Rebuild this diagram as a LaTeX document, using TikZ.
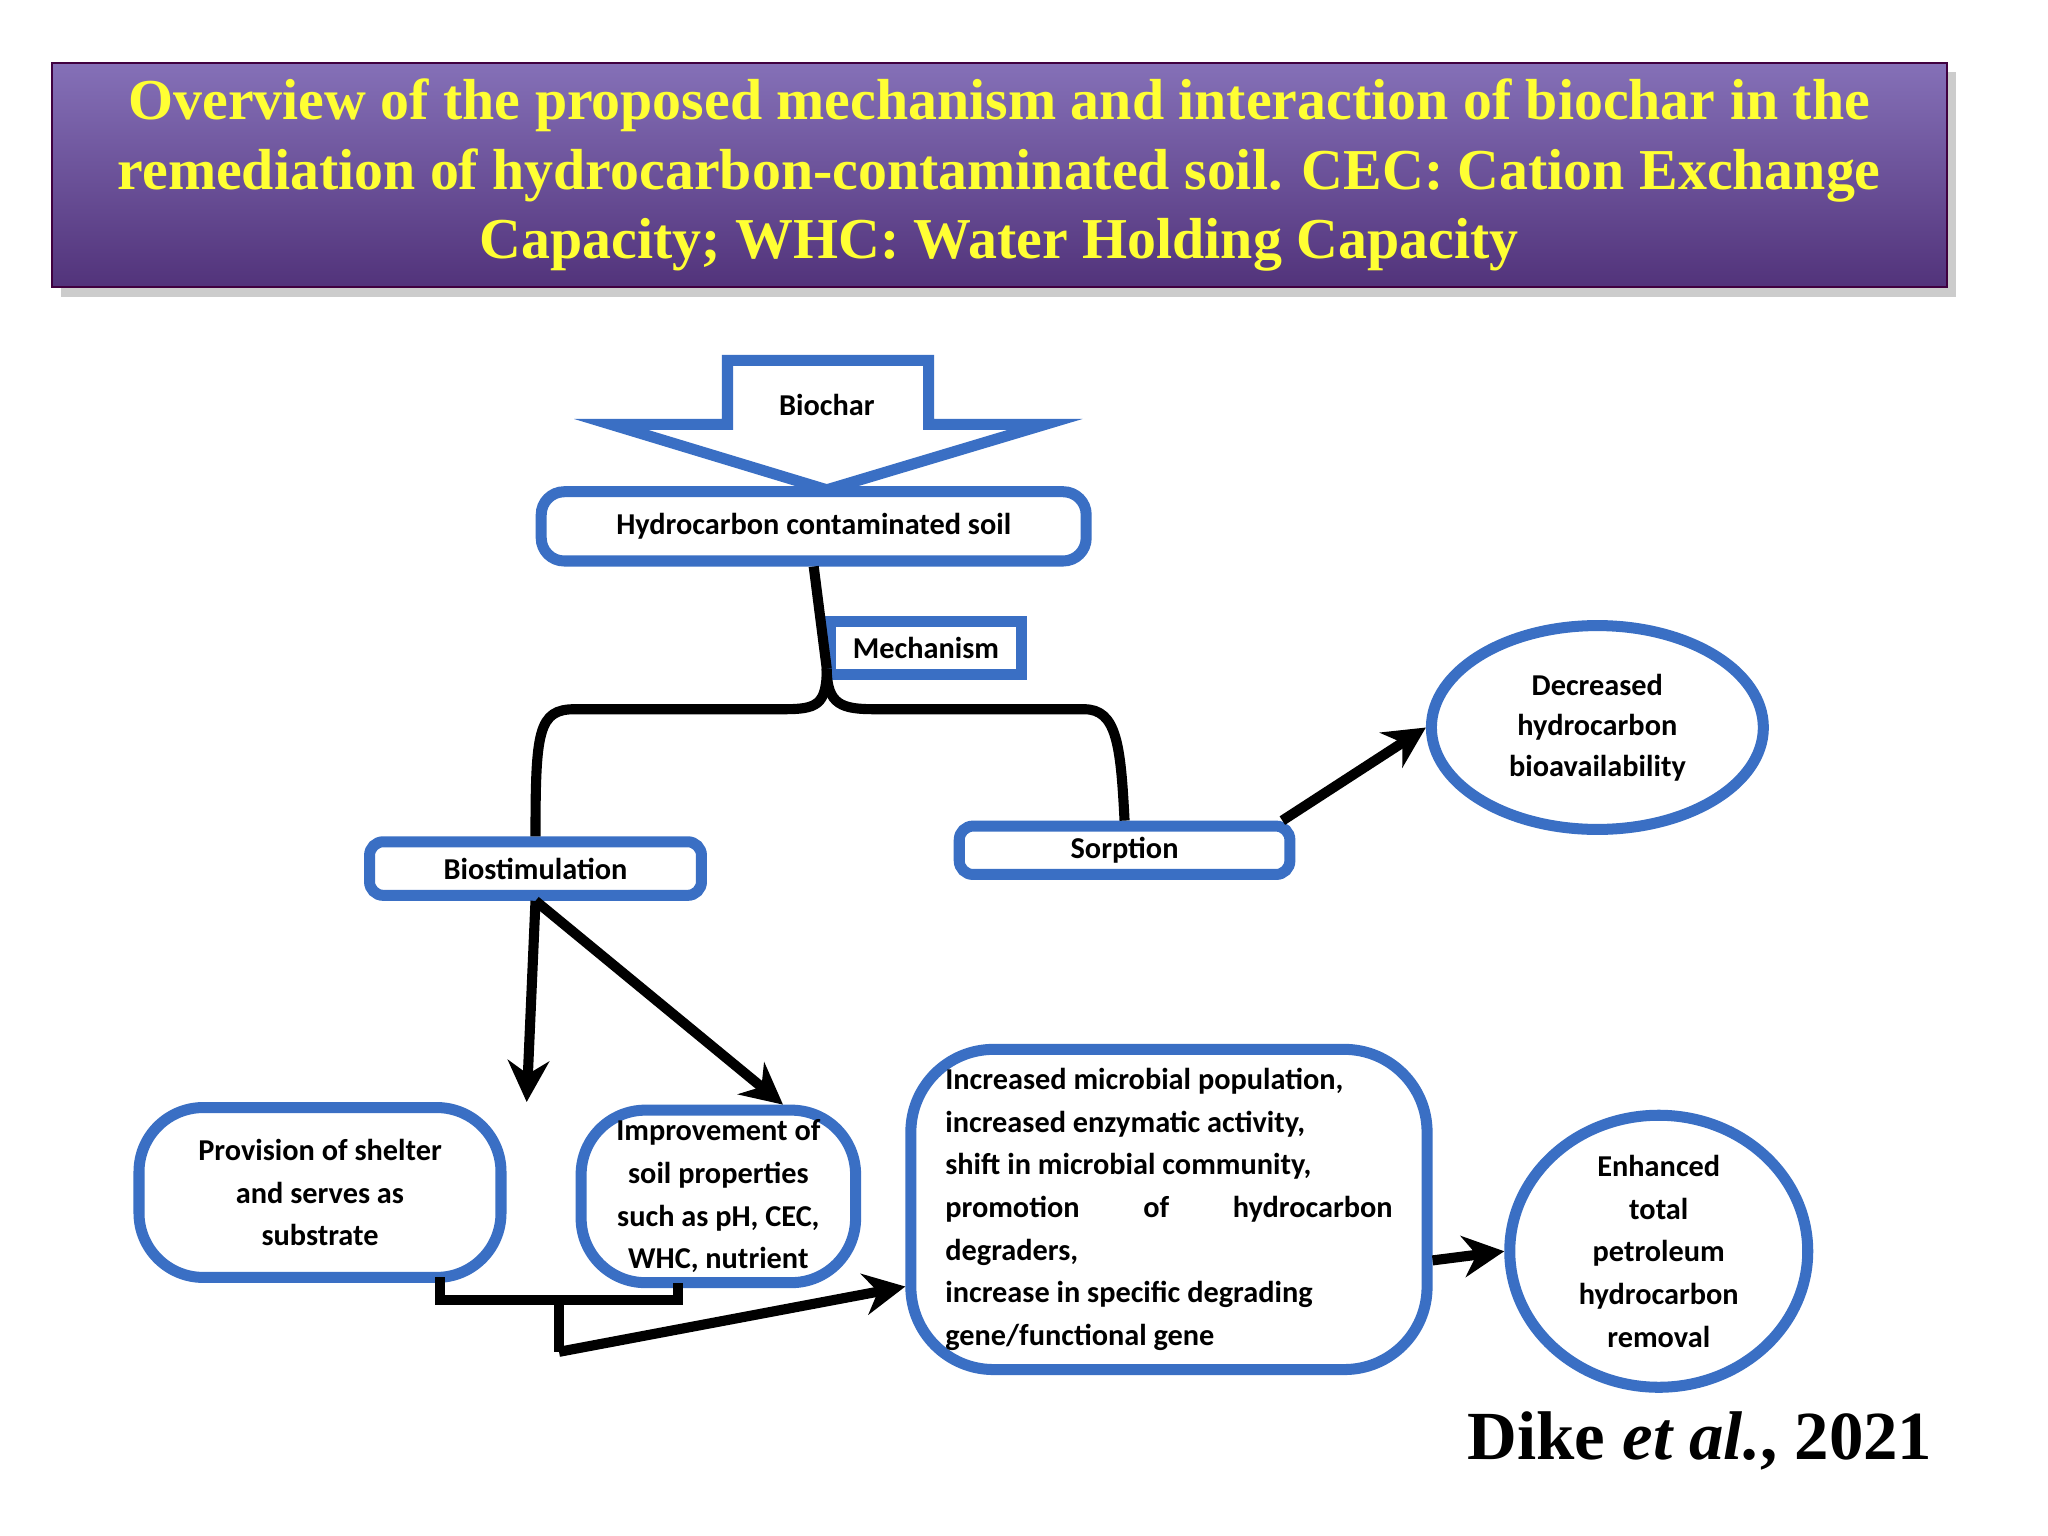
\documentclass[tikz,border=0pt]{standalone}
\usepackage{fontspec}
\setmainfont{Liberation Serif}
\newfontfamily\boxfont{Carlito}
\usetikzlibrary{shapes.geometric,arrows.meta,shadows}
\definecolor{bl}{HTML}{3A6FC4}
\definecolor{ttl}{HTML}{FFFF33}
\tikzset{
 bx/.style={draw=bl,line width=2.4pt,fill=white,font=\boxfont\bfseries\fontsize{6.6}{8.8}\selectfont,inner sep=2pt},
 ln/.style={line width=2.2pt,black},
 ar/.style={ln,-{Stealth[length=9pt,width=9pt]}},
}
\begin{document}
\begin{tikzpicture}[x=0.01cm,y=-0.01cm]
\useasboundingbox (0,0) rectangle (1568,1176);
\fill[white] (0,0) rectangle (1568,1176);
% title
\node[drop shadow={shadow xshift=2pt,shadow yshift=-2pt,opacity=.4},top color=violet!45!blue!45!white!80!black,bottom color=violet!60!blue!50!black!80,
  draw=violet!50!black,minimum width=14.5cm,minimum height=1.72cm,align=center,text=ttl,
  font=\bfseries\fontsize{12.6}{15.2}\selectfont] (title) at (765,134)
 {Overview of the proposed mechanism and interaction of biochar in the\\ remediation of hydrocarbon-contaminated soil. CEC: Cation Exchange\\ Capacity; WHC: Water Holding Capacity};
% biochar arrow
\draw[bl,line width=2.4pt,fill=white,line join=miter] (557,276) -- (711,276) -- (711,325) -- (800,325) -- (633,375) -- (468,325) -- (557,325) -- cycle;
\node[font=\boxfont\bfseries\fontsize{6.6}{8.8}\selectfont] (bio) at (633,310) {Biochar};
\node[bx,rounded corners=5pt,minimum width=4.17cm,minimum height=0.53cm] (hcs) at (623,403) {Hydrocarbon contaminated soil};
\node[bx,minimum width=1.46cm,minimum height=0.41cm] (mech) at (709,496) {Mechanism};
\node[bx,rounded corners=3pt,minimum width=2.54cm,minimum height=0.41cm] (bs) at (410,665) {Biostimulation};
\node[bx,rounded corners=3pt,minimum width=2.53cm,minimum height=0.37cm] (sorp) at (861,651) {Sorption};
\node[bx,ellipse,minimum width=2.54cm,minimum height=1.56cm,align=center] (dec) at (1223,557) {Decreased\\hydrocarbon\\bioavailability};
\node[bx,rounded corners=14pt,minimum width=2.77cm,minimum height=1.30cm,align=center,font=\boxfont\bfseries\fontsize{6.6}{9.3}\selectfont] (prov) at (245,913) {Provision of shelter\\and serves as\\substrate};
\node[bx,rounded corners=14pt,minimum width=2.10cm,minimum height=1.32cm,align=center,font=\boxfont\bfseries\fontsize{6.6}{9.3}\selectfont] (imp) at (550,916) {Improvement of\\soil properties\\such as pH, CEC,\\WHC, nutrient};
\node[bx,rounded corners=18pt,minimum width=3.95cm,minimum height=2.45cm,align=left,font=\boxfont\bfseries\fontsize{6.6}{9.3}\selectfont] (big) at (895,926)
 {Increased microbial population,\\increased enzymatic activity,\\shift in microbial community,\\promotion\hspace{2.1em}of\hspace{2.1em}hydrocarbon\\degraders,\\increase in specific degrading\\gene/functional gene};
\node[bx,ellipse,minimum width=2.28cm,minimum height=1.76cm,align=center,inner sep=0pt,font=\boxfont\bfseries\fontsize{6.6}{9.3}\selectfont] (enh) at (1270,958) {Enhanced\\total\\petroleum\\hydrocarbon\\removal};
\node[anchor=east,font=\bfseries\fontsize{15}{18}\selectfont] (cite) at (1492,1103) {Dike \textit{et al.}, 2021};
% connectors
\coordinate (j) at (633,512);
\draw[ln] (hcs.south) -- (j);
\draw[ln] (j) .. controls (633,540) and (625,543) .. (600,543) -- (440,543) .. controls (412,543) and (410,560) .. (bs.north);
\draw[ln] (j) .. controls (633,540) and (645,543) .. (670,543) -- (830,543) .. controls (855,543) and (858,570) .. (sorp.north);
\draw[ar] (sorp.north east) ++(-10,0) coordinate (s1) (s1) -- (dec.west);
\draw[ar] (bs.south) -- ([xshift=45]prov.north);
\draw[ar] (bs.south) -- ([xshift=-17]imp.north east);
\coordinate (p1) at (337,995); \coordinate (p2) at (519,995);
\coordinate (m) at (428,995); \coordinate (m2) at (428,1035);
\draw[ln] (337,978) -- (p1) -- (p2) -- (519,982);
\draw[ln] (m) -- (m2);
\draw[ar] (m2) -- (big.west |- 0,985);
\draw[ar] (big.east |- 0,965) -- (enh.west);
\end{tikzpicture}
\end{document}
